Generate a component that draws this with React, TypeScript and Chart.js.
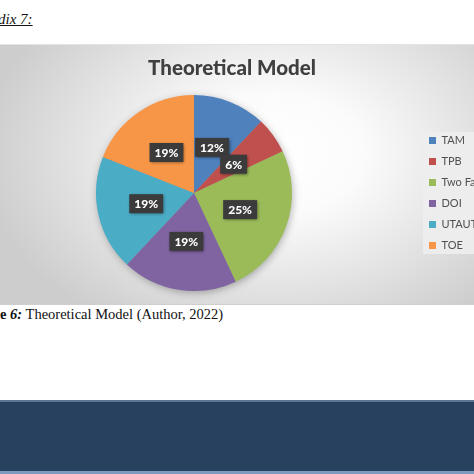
import React, { useEffect, useRef } from "react";
import { Chart, registerables } from "chart.js";

Chart.register(...registerables);

const categories = ["TAM", "TPB", "Two Factor", "DOI", "UTAUT", "TOE"];
const shares = [12, 6, 25, 19, 19, 19];
const sliceColors = ["#4F81BD", "#C0504D", "#9BBB59", "#8064A2", "#4BACC6", "#F79646"];
const chartTitle = "Theoretical Model";
const headingText = "dix 7:";
const captionLead = "e ";
const captionNum = "6:";
const captionText = " Theoretical Model (Author, 2022)";

export default function App() {
  const ref = useRef<HTMLCanvasElement>(null);

  useEffect(() => {
    const canvas = ref.current;
    if (!canvas) return;

    const decor = {
      id: "decor",
      beforeDraw(chart: any) {
        const lg = chart.legend;
        if (!lg) return;
        const ctx = chart.ctx;
        const pad = 10;
        const colH = (lg.columnSizes && lg.columnSizes[0] && lg.columnSizes[0].height) || 126;
        const top = (lg.top + pad + lg.bottom - colH) / 2;
        ctx.save();
        ctx.fillStyle = "rgba(238,238,238,0.92)";
        ctx.fillRect(lg.left + 4, top - 3, chart.width, colH - pad + 6);
        ctx.restore();
      },
      beforeDatasetsDraw(chart: any) {
        const meta = chart.getDatasetMeta(0);
        const arc: any = meta.data[0];
        if (!arc) return;
        const ctx = chart.ctx;
        ctx.save();
        ctx.shadowColor = "rgba(0,0,0,0.35)";
        ctx.shadowBlur = 9;
        ctx.shadowOffsetX = 1;
        ctx.shadowOffsetY = 2;
        ctx.fillStyle = "#9a9a9a";
        ctx.beginPath();
        ctx.arc(arc.x, arc.y, arc.outerRadius - 1, 0, Math.PI * 2);
        ctx.fill();
        ctx.restore();
      },
      afterDatasetsDraw(chart: any) {
        const meta = chart.getDatasetMeta(0);
        const ctx = chart.ctx;
        ctx.save();
        ctx.font = "900 12px Lato, 'Open Sans', sans-serif";
        ctx.textAlign = "center";
        ctx.textBaseline = "middle";
        meta.data.forEach((el: any, i: number) => {
          const p = el.tooltipPosition(false);
          const txt = `${shares[i]}%`;
          const w = ctx.measureText(txt).width + 10;
          const h = 19;
          ctx.shadowColor = "rgba(0,0,0,0.5)";
          ctx.shadowBlur = 3;
          ctx.shadowOffsetX = 1;
          ctx.shadowOffsetY = 1;
          ctx.fillStyle = "#3b3b3b";
          ctx.fillRect(p.x - w / 2, p.y - h / 2, w, h);
          ctx.shadowColor = "transparent";
          ctx.shadowBlur = 0;
          ctx.shadowOffsetX = 0;
          ctx.shadowOffsetY = 0;
          ctx.fillStyle = "#ffffff";
          ctx.fillText(txt, p.x, p.y + 0.5);
        });
        ctx.restore();
      },
    };

    const chart = new Chart(canvas, {
      type: "pie",
      data: {
        labels: categories,
        datasets: [
          {
            data: shares,
            backgroundColor: sliceColors,
            borderWidth: 0,
            hoverOffset: 0,
            offset: 0,
          },
        ],
      },
      options: {
        responsive: false,
        animation: false,
        events: [],
        layout: { padding: { top: 0, bottom: 14, left: 0, right: 0 } },
        plugins: {
          title: {
            display: true,
            text: chartTitle,
            color: "#3f3f3f",
            font: { family: "Lato, 'Open Sans', sans-serif", size: 20.5, weight: "900", lineHeight: 1.2 },
            padding: { top: 11.7, bottom: 14.7 },
          },
          legend: {
            display: true,
            position: "right",
            align: "center",
            fullSize: false,
            maxWidth: 76,
            labels: {
              boxWidth: 7,
              boxHeight: 7,
              padding: 10,
              color: "#505050",
              font: { family: "Lato, 'Open Sans', sans-serif", size: 11 },
            },
          },
          tooltip: { enabled: false },
        },
      } as any,
      plugins: [decor],
    });

    return () => chart.destroy();
  }, []);

  return (
    <div
      style={{
        position: "absolute",
        left: 0,
        top: 0,
        width: 474,
        height: 474,
        overflow: "hidden",
        background: "#ffffff",
      }}
    >
      <div
        style={{
          position: "absolute",
          left: -2,
          top: 10,
          fontFamily: "'Liberation Serif', serif",
          fontStyle: "italic",
          fontSize: 15,
          lineHeight: "18px",
          textDecoration: "underline",
          color: "#111",
          whiteSpace: "nowrap",
        }}
      >
        {headingText}
      </div>
      <div
        style={{
          position: "absolute",
          left: 0,
          top: 44,
          width: 474,
          height: 261,
          boxSizing: "border-box",
          borderTop: "1px solid #e4e4e4",
          borderBottom: "1px solid #cfcfcf",
          background:
            "radial-gradient(ellipse 62% 78% at 58% 42%, #ffffff 0%, #fbfbfb 30%, #e6e6e6 62%, #cdcdcd 100%)",
        }}
      />
      <canvas
        ref={ref}
        width={526}
        height={261}
        style={{ position: "absolute", left: -31, top: 44, width: 526, height: 261 }}
      />
      <div
        style={{
          position: "absolute",
          left: 0,
          top: 305,
          fontFamily: "'Liberation Serif', serif",
          fontSize: 14.5,
          lineHeight: "18px",
          color: "#111",
          whiteSpace: "nowrap",
        }}
      >
        <b>
          {captionLead}
          <i>{captionNum}</i>
        </b>
        {captionText}
      </div>
      <div
        style={{
          position: "absolute",
          left: 0,
          top: 400,
          width: 474,
          height: 74,
          boxSizing: "border-box",
          background: "#27415f",
          borderTop: "2px solid #5d7594",
          borderBottom: "3px solid #7e9bbf",
        }}
      />
    </div>
  );
}
